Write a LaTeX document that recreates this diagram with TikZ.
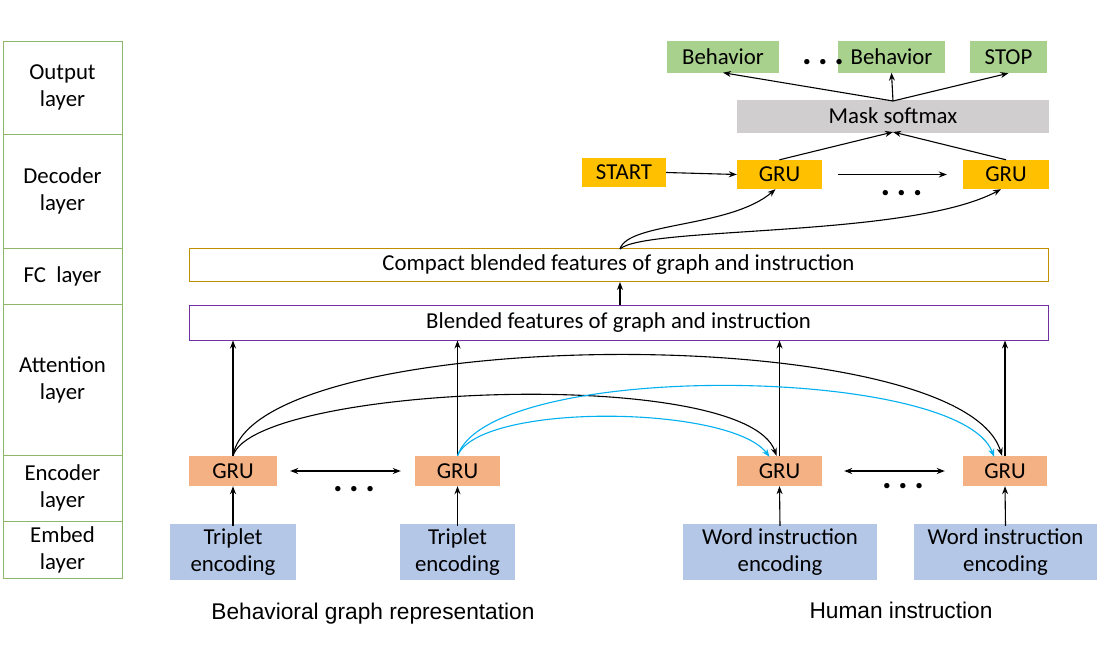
\documentclass[tikz,border=0pt]{standalone}
\usepackage{fontspec}
\setmainfont{Carlito}
\newfontfamily\arialf{Liberation Sans}
\usetikzlibrary{arrows.meta}
\definecolor{laygreen}{HTML}{8DB86A}
\definecolor{outgreen}{HTML}{A9D18E}
\definecolor{maskgray}{HTML}{D0CECE}
\definecolor{decyel}{HTML}{FFC000}
\definecolor{encor}{HTML}{F4B183}
\definecolor{embblue}{HTML}{B4C7E7}
\definecolor{fcgold}{HTML}{BF9000}
\definecolor{attpurple}{HTML}{7030A0}
\definecolor{skyblue}{HTML}{00B0F0}
\begin{document}
\begin{tikzpicture}[x=1pt,y=-1pt,
  every node/.style={font=\fontsize{22.8}{27}\selectfont, inner sep=0pt, align=center},
  lay/.style={draw=laygreen, line width=1pt, minimum width=119pt},
  fbox/.style={fill=#1, minimum height=30pt},
  arr/.style={-{Stealth[length=8pt,width=6pt]}, line width=1.1pt},
  arrtwo/.style={{Stealth[length=8pt,width=6pt]}-{Stealth[length=8pt,width=6pt]}, line width=1.1pt},
  dots/.style={anchor=base, font=\fontsize{36}{36}\selectfont\bfseries},
  caption/.style={font=\arialf\fontsize{22.7}{26}\selectfont}
]
\useasboundingbox (0,0) rectangle (1106,645);
\fill[white] (0,0) rectangle (1106,645);

% layer column
\node[lay, minimum height=93pt] (l1) at (62.5,87.5) {Output\\layer};
\node[lay, minimum height=114pt] (l2) at (62.5,191) {Decoder\\layer};
\node[lay, minimum height=56pt] (l3) at (62.5,276) {FC\ \ layer};
\node[lay, minimum height=151pt] (l4) at (62.5,379.5) {Attention\\layer};
\node[lay, minimum height=66pt] (l5) at (62.5,488) {Encoder\\layer};
\node[lay, minimum height=57pt] (l6) at (62.5,549.5) {Embed\\layer};

% output layer
\node[fbox=outgreen, minimum width=112pt, minimum height=32pt] (b1) at (723,56.5) {Behavior};
\node[fbox=outgreen, minimum width=107pt, minimum height=32pt] (b2) at (891.5,56.5) {Behavior};
\node[fbox=outgreen, minimum width=77pt, minimum height=32pt] (stop) at (1008.5,57) {STOP};
\node[dots] (dtop) at (823,64) {.\hspace{6.5pt}.\hspace{6.5pt}.};
\node[fbox=maskgray, minimum width=312pt, minimum height=33pt] (mask) at (893,116) {Mask softmax};

% decoder layer
\node[fbox=decyel, minimum width=84pt, minimum height=29pt] (start) at (624,172.5) {START};
\node[fbox=decyel, minimum width=85pt, minimum height=29pt] (dg1) at (779.5,174.5) {GRU};
\node[fbox=decyel, minimum width=86pt, minimum height=29pt] (dg2) at (1006,174.5) {GRU};
\node[dots] (ddec) at (901.5,195) {.\hspace{6.5pt}.\hspace{6.5pt}.};

% FC and attention
\node[draw=fcgold, line width=1pt, minimum width=859pt, minimum height=33pt] (fc) at (618.5,265) {Compact blended features of graph and instruction};
\node[draw=attpurple, line width=1pt, minimum width=859pt, minimum height=35pt] (att) at (618.5,322.5) {Blended features of graph and instruction};

% encoder layer
\node[fbox=encor, minimum width=88pt] (g1) at (233,471) {GRU};
\node[fbox=encor, minimum width=85pt] (g2) at (457.5,471) {GRU};
\node[fbox=encor, minimum width=85pt] (g3) at (779.5,471) {GRU};
\node[fbox=encor, minimum width=84pt] (g4) at (1005,471) {GRU};
\node[dots] (denc1) at (354,491) {.\hspace{6.5pt}.\hspace{6.5pt}.};
\node[dots] (denc2) at (903,488) {.\hspace{6.5pt}.\hspace{6.5pt}.};

% embed layer
\node[fbox=embblue, minimum width=126pt, minimum height=56pt] (t1) at (233,552) {Triplet\\encoding};
\node[fbox=embblue, minimum width=115pt, minimum height=56pt] (t2) at (457.5,552) {Triplet\\encoding};
\node[fbox=embblue, minimum width=194pt, minimum height=56pt] (w1) at (780,552) {Word instruction\\encoding};
\node[fbox=embblue, minimum width=183pt, minimum height=56pt] (w2) at (1005.5,552) {Word instruction\\encoding};

% captions
\node[caption] (cap1) at (373,614) {Behavioral graph representation};
\node[caption] (cap2) at (901,610) {Human instruction};

% output arrows
\coordinate (mtop) at (893,101);
\coordinate (mbot) at (893,132);
\draw[arr] (mtop) -- (b1.south);
\draw[arr] (mtop) -- (b2.south);
\draw[arr] (mtop) -- (stop.south);
\draw[arr] (dg1.north) -- (mbot);
\draw[arr] (dg2.north) -- (mbot);

% decoder arrows
\draw[arr] (start.east) -- (dg1.west);
\draw[arr] ([xshift=16pt]dg1.east) -- ([xshift=-16pt]dg2.west);

% FC to decoder curves
\coordinate (fctop) at (620,249);
\draw[arr] (fctop) .. controls (628,222) and (730,228) .. ([xshift=-4pt]dg1.south);
\draw[arr] (fctop) .. controls (645,226) and (910,238) .. ([xshift=-5pt]dg2.south);

% attention to FC
\draw[arr] (att.north -| fctop) -- (fc.south -| fctop);

% encoder up arrows
\draw[arr] (g1.north) -- (g1.north |- att.south);
\draw[arr] (g2.north) -- (g2.north |- att.south);
\draw[arr] (g3.north) -- (g3.north |- att.south);
\draw[arr] (g4.north) -- (g4.north |- att.south);

% encoder horizontal
\draw[arrtwo] ([xshift=13pt]g1.east) -- ([xshift=-14pt]g2.west);
\draw[arrtwo] ([xshift=22pt]g3.east) -- ([xshift=-18pt]g4.west);

% embed to encoder
\draw[arr] ([yshift=-2pt]t1.north) -- (g1.south);
\draw[arr] ([yshift=-2pt]t2.north) -- (g2.south);
\draw[arr] ([yshift=-2pt]w1.north) -- (g3.south);
\draw[arr] ([yshift=-2pt]w2.north) -- (g4.south);

% attention curves
\draw[arr] (g1.north) .. controls (255,325) and (960,318) .. ([xshift=-3pt]g4.north);
\draw[arr] (g1.north) .. controls (255,385) and (745,365) .. ([xshift=-3pt]g3.north);
\draw[arr, skyblue] (g2.north) .. controls (480,402) and (730,405) .. ([xshift=-10pt,yshift=-1pt]g3.north);
\draw[arr, skyblue] (g2.north) .. controls (490,360) and (960,365) .. ([xshift=-11pt,yshift=-1pt]g4.north);
\end{tikzpicture}
\end{document}
